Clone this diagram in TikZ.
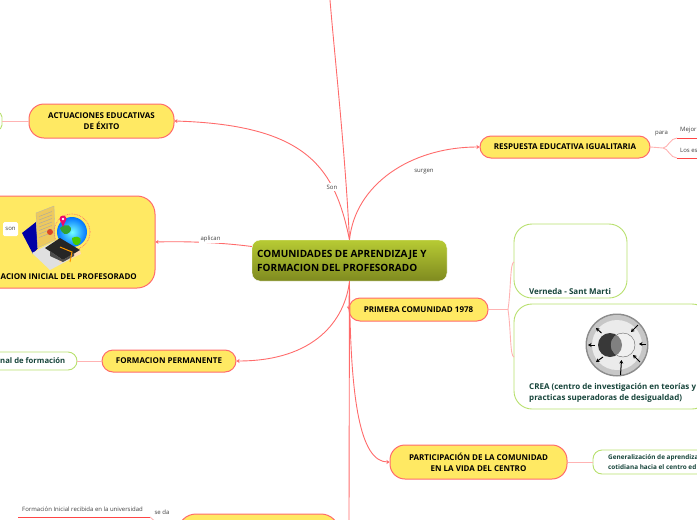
\documentclass[tikz,border=0pt]{standalone}
\usepackage{fontspec}
\setmainfont{Open Sans}
\usetikzlibrary{arrows.meta}
\definecolor{linkred}{HTML}{FF6B6B}
\definecolor{palered}{HTML}{FFB3B3}
\definecolor{boxyellow}{HTML}{FFE963}
\definecolor{leafgreen}{HTML}{B8E06E}
\definecolor{leaftext}{HTML}{17453B}
\definecolor{oliveup}{HTML}{B7CB34}
\definecolor{olivedown}{HTML}{7F8A1F}
\definecolor{underred}{HTML}{FF4545}

\begin{document}
\begin{tikzpicture}[x=1pt,y=-1pt,>=Stealth,
	topic/.style={rectangle,rounded corners=11pt,draw=linkred,fill=boxyellow,line width=1pt,inner sep=0pt,font={\fontsize{8}{11}\selectfont\bfseries},text=black,align=center},
	leaf/.style={rectangle,draw=leafgreen,fill=white,line width=0.9pt,inner sep=0pt},
	leaftxt/.style={text=leaftext,font={\fontsize{8}{11}\selectfont\bfseries},inner sep=0pt},
	link/.style={->,draw=linkred,line width=0.9pt,>={Stealth[length=3pt,width=4pt]}},
	sublink/.style={draw=palered,line width=0.9pt},
	tag/.style={fill=white,text=black!75,font={\fontsize{6}{7}\selectfont},inner sep=1.5pt},
	under/.style={draw=underred,line width=1pt},
	subtxt/.style={text=black!75,font={\fontsize{6}{7}\selectfont},inner sep=0pt}]
	\useasboundingbox (0,0) rectangle (697,520);
	\clip (0,0) rectangle (697,520);

	% central topic
	\node[rectangle,rounded corners=8pt,top color=oliveup,bottom color=olivedown,draw=white,minimum width=195pt,minimum height=41pt,inner sep=0pt] (central) at (349.5,260.5) {};
	\node[anchor=west,align=left,inner sep=0pt,text=black,font={\fontsize{10}{14}\selectfont\bfseries}] (centraltxt) at (257,260.5) {COMUNIDADES DE APRENDIZAJE Y\\FORMACION DEL PROFESORADO};

	% main topics
	\foreach \name/\cx/\cy/\w/\h/\rad/\txt in {
		actuaciones/101.5/121/145/34/15/{ACTUACIONES EDUCATIVAS\\DE ÉXITO},
		permanente/169/361/134/22/11/{FORMACION PERMANENTE},
		respuesta/565/147/170/22/11/{RESPUESTA EDUCATIVA IGUALITARIA},
		primera/418.5/309.5/139/23/11/{PRIMERA COMUNIDAD 1978},
		participacion/478.5/462/177/34/15/{PARTICIPACIÓN DE LA COMUNIDAD\\EN LA VIDA DEL CENTRO}}{
		\node[topic,rounded corners=\rad pt,minimum width=\w pt,minimum height=\h pt] (\name) at (\cx,\cy) {\txt};
	}
	\node[topic,rounded corners=18pt,minimum width=215pt,minimum height=92pt] (inicial) at (47.5,242) {};
	\node[topic,rounded corners=18pt,minimum width=161pt,minimum height=40pt] (dada) at (258.5,534) {};
	\node[anchor=east,inner sep=0pt,font={\fontsize{8}{10}\selectfont\bfseries}] (inicialtxt) at (137,277) {ACION INICIAL DEL PROFESORADO};

	% leaves
	\node[leaf,rounded corners=5pt,minimum width=20pt,minimum height=18pt] (exito) at (-8,121) {};
	\node[leaf,rounded corners=9pt,minimum width=100pt,minimum height=18pt] (plan) at (27,361) {};
	\node[leaftxt,anchor=east,font={\fontsize{7.7}{10}\selectfont\bfseries}] (plantxt) at (65.5,360.5) {nal de formación};
	\node[leaf,rounded corners=18pt,minimum width=113pt,minimum height=74pt] (verneda) at (570.5,261) {};
	\node[leaftxt,anchor=south] (vernedatxt) at (570,295) {Verneda - Sant Marti};
	\node[leaf,rounded corners=18pt,minimum width=196pt,minimum height=105pt] (crea) at (612,356.5) {};
	\node[leaftxt,anchor=north west,align=left,font={\fontsize{8}{11}\selectfont\bfseries}] (creatxt) at (529,383) {CREA (centro de investigación en teorías y\\practicas superadoras de desigualdad)};
	\node[leaf,rounded corners=9pt,minimum width=130pt,minimum height=24pt] (generaliza) at (658,462) {};
	\node[leaftxt,anchor=west,align=left,font={\fontsize{6.4}{9.5}\selectfont\bfseries}] (generalizatxt) at (608,462) {Generalización de aprendiza\\cotidiana hacia el centro ed};

	% links from the centre
	\coordinate (topend) at (330,0);
	\coordinate (botend) at (349,520);
	\draw[draw=linkred,line width=0.9pt] (central.north) .. controls (345,150) and (335,60) .. (topend);
	\draw[draw=linkred,line width=0.9pt] (central.south) -- (botend);
	\draw[link] (central.north) .. controls (335,170) and (310,125) .. (actuaciones.east);
	\draw[link] (central.west) ++(0,-14) coordinate (cw) .. controls (225,243) and (190,241) .. (inicial.east);
	\draw[link] (central.south) .. controls (345,320) and (315,361) .. (permanente.east);
	\draw[link] (central.north) .. controls (355,185) and (410,147) .. (respuesta.west);
	\draw[link] (central.south) -- (349,305) -- (primera.west);
	\draw[link] (central.south) .. controls (350,400) and (360,462) .. (participacion.west);

	% small links
	\draw[sublink] (actuaciones.west) -- (exito.east);
	\draw[sublink] (permanente.west) -- (plan.east);
	\draw[sublink] (participacion.east) -- (generaliza.west);
	\coordinate (paraend) at (663,148);
	\coordinate (mejorend) at (677,138);
	\coordinate (losend) at (677,158);
	\draw[sublink] (respuesta.east) -- (paraend) .. controls (668,148) and (670,138) .. (mejorend);
	\draw[sublink] (paraend) .. controls (668,148) and (670,158) .. (losend);
	\coordinate (primeraend) at (508,309.5);
	\coordinate (vernedain) at (514,262);
	\coordinate (creain) at (514,357);
	\draw[sublink] (primera.east) -- (primeraend) .. controls (511,290) and (510,262) .. (vernedain);
	\draw[sublink] (primeraend) .. controls (511,330) and (510,357) .. (creain);
	\coordinate (unileft) at (18,517);
	\coordinate (uniright) at (150,517);
	\draw[sublink] (uniright) .. controls (154,520) .. (158,524);
	\draw[under] (unileft) -- (uniright);
	\coordinate (mejorright) at (700,138);
	\coordinate (losright) at (700,158);
	\draw[under] (mejorend) -- (mejorright);
	\draw[under] (losend) -- (losright);

	% labels
	\foreach \name/\cx/\cy/\txt in {son/332/187/Son,aplican/210.5/238.5/aplican,surgen/424/172/surgen,para/661.5/133.5/para,seda/162/512/se da}{
		\node[tag] (\name) at (\cx,\cy) {\txt};
	}
	\node[subtxt,anchor=west] (mejor) at (680,130) {Mejor};
	\node[subtxt,anchor=west] (loses) at (680,150) {Los es};
	\node[subtxt,anchor=west] (uni) at (22,509) {Formación Inicial recibida en la universidad};
	\node[tag,rounded corners=1.5pt,minimum width=15pt,minimum height=14pt,inner sep=0pt] (sontag) at (10.5,229) {son};

	% diploma, laptop, globe and cap
	\fill[blue!65!black] (22,233) -- (36,222) -- (38,248) -- (33,254) -- cycle;
	\fill[black!12] (32,253) -- (50,270) -- (80,254) -- (57,240) -- cycle;
	\fill[orange!35!yellow!60!brown!70!white,draw=black!30,line width=0.3pt] (36,213) -- (54,206) -- (55,240) -- (37.5,248) -- cycle;
	\foreach \i in {1,...,7}{
		\draw[black!35,line width=0.4pt] (39,213+3.5*\i) -- (52,208+3.5*\i);
	}
	\fill[red!45!brown] (50,232) circle (3);
	\draw[red!60!white,densely dotted,line width=0.7pt] (72,232) circle (18);
	\shade[inner color=cyan!55,outer color=blue!55!cyan] (72,232) circle (15);
	\fill[green!55!black!80] (60,228) .. controls (66,222) and (74,226) .. (70,232) .. controls (66,236) and (62,234) .. cycle;
	\fill[green!65!yellow!80!black] (72,238) .. controls (80,234) and (84,240) .. (78,245) .. controls (74,246) and (72,242) .. cycle;
	\fill[magenta!70!red] (63,219) circle (3.5);
	\fill[magenta!70!red] (60.5,221) -- (65.5,221) -- (63,227) -- cycle;
	\fill[white] (63,219) circle (1.3);
	\fill[orange!30!white] (58,258) -- (80,250) -- (81,254) -- (60,263) -- cycle;
	\fill[black!85] (45,248) -- (60,238) -- (80,250) -- (63,260) -- cycle;
	\fill[black!70] (50,251) -- (50,256) -- (63,262) -- (74,256) -- (74,253) -- (63,260) -- cycle;
	\draw[orange!80!yellow,line width=1pt] (60,247) -- (72,252) -- (70,262);

	% circle picture of the CREA box
	\fill[black!45] (617,345) circle (31.5);
	\fill[black!22] (617,345) circle (30);
	\fill[black!8] (617,345) circle (25);
	\fill[black!78] (610,345) circle (12);
	\fill[black!6,draw=black!60,line width=0.4pt] (623,345) circle (12);
	\begin{scope}
		\clip (610,345) circle (12);
		\fill[black!50] (623,345) circle (12);
	\end{scope}
	\foreach \xa/\ya/\xb/\yb in {601.5/333/596/328,595/345/588/345,603/357/596/362,638/325/631/332,646/344/639/344,640/362/633/355,620.5/375/621.5/360}{
		\draw[->,black,line width=1pt,>={Stealth[length=3.5pt,width=4pt]}] (\xa,\ya) -- (\xb,\yb);
	}
\end{tikzpicture}
\end{document}
